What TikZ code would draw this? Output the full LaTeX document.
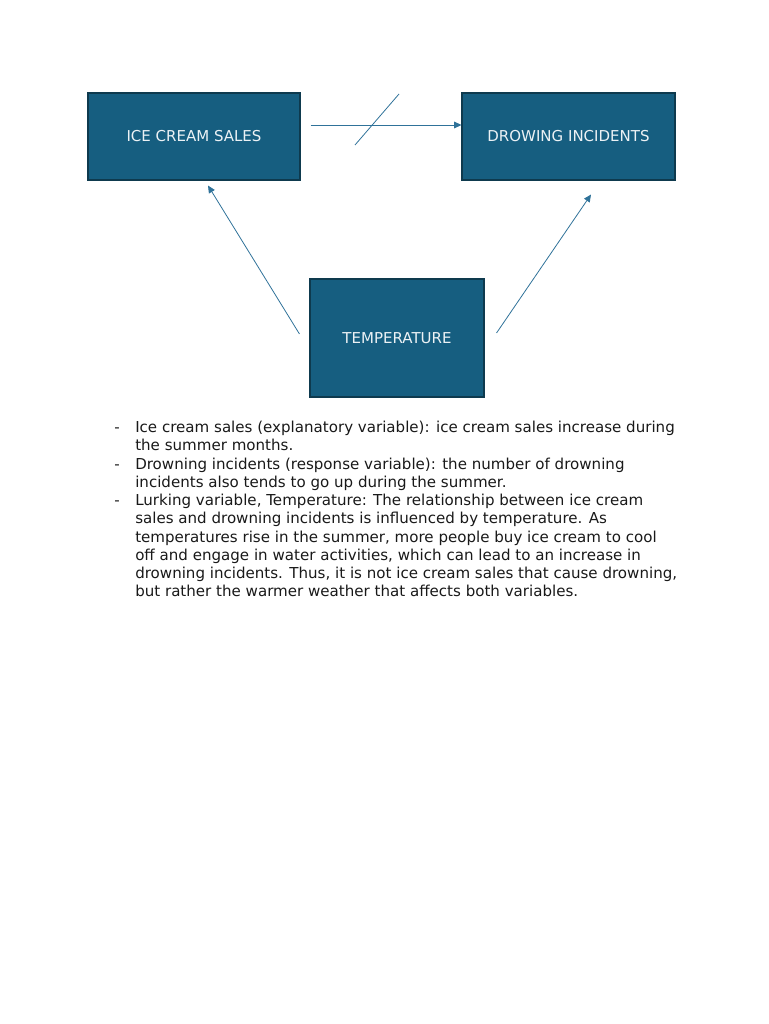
\documentclass[tikz,border=0pt]{standalone}
\usepackage{fontspec}
\setmainfont{DejaVu Sans}
\usepackage{tikz}
\usetikzlibrary{
	positioning,
	calc,
	arrows.meta
}
\definecolor{boxblue}{HTML}{165E80}
\definecolor{boxedge}{HTML}{0E3A4E}
\definecolor{linkblue}{HTML}{2F7299}
\newcommand{\itemdash}{\makebox[15.75pt][l]{-}}
\newcommand{\itemgap}{\hspace*{15.75pt}}
\tikzset{
	varbox/.style={rectangle,fill=boxblue,draw=boxedge,line width=0.8pt,
		text=white!92!boxblue,font=\fontsize{11.25}{13}\selectfont,inner sep=0pt},
	link/.style={draw=linkblue,line width=0.6pt,-{Triangle[length=5.5pt,width=5pt]}}
}

\begin{document}
\begin{tikzpicture}[x=0.75pt,y=-0.75pt]
	\useasboundingbox (0,0) rectangle (768,1024);
	\draw
		node [varbox,minimum width=159pt,minimum height=65.25pt]   (ics) at (194,136.5) {ICE CREAM SALES}
		node [varbox,minimum width=159.75pt,minimum height=65.25pt] (dri) at (568.5,136.5) {DROWING INCIDENTS}
		node [varbox,minimum width=130.5pt,minimum height=88.5pt]  (tmp) at (397,338) {TEMPERATURE}
	;
	\draw[link] ($(ics.east)+(10,-11.5)$) -- ($(dri.west)+(0,-11.5)$);
	\draw[linkblue,line width=0.6pt] (355,145) -- (399,94);
	\draw[link] ($(tmp.west)+(-10,-4)$) -- ($(ics.south)+(14,5)$);
	\draw[link] ($(tmp.east)+(12,-5)$) -- ($(dri.south)+(22.5,14)$);
	% notes under the diagram
	\node [anchor=north west,align=left,inner sep=0pt,text=black!90,
		font=\fontsize{11.3}{13.68}\selectfont] (notes) at (114,421) {%
		\itemdash Ice cream sales (explanatory variable): ice cream sales increase during\\
		\itemgap the summer months.\\
		\itemdash Drowning incidents (response variable): the number of drowning\\
		\itemgap incidents also tends to go up during the summer.\\
		\itemdash Lurking variable, Temperature: The relationship between ice cream\\
		\itemgap sales and drowning incidents is influenced by temperature. As\\
		\itemgap temperatures rise in the summer, more people buy ice cream to cool\\
		\itemgap off and engage in water activities, which can lead to an increase in\\
		\itemgap drowning incidents. Thus, it is not ice cream sales that cause drowning,\\
		\itemgap but rather the warmer weather that affects both variables.};
\end{tikzpicture}
\end{document}
